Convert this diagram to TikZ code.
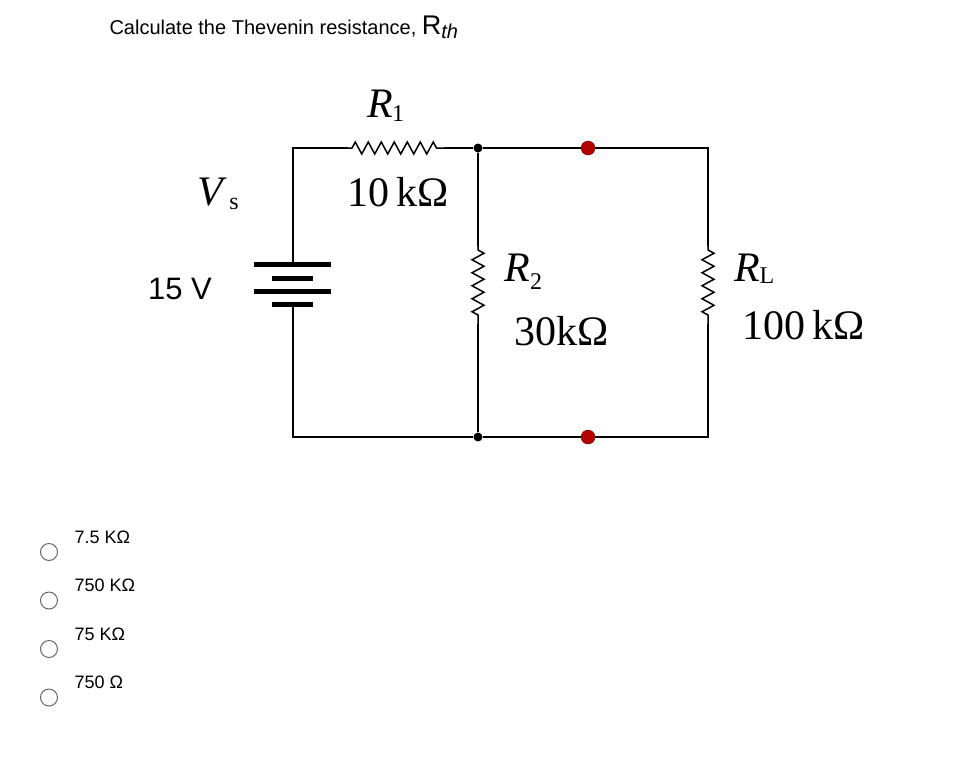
\documentclass[tikz,border=0pt]{standalone}
\usepackage{fontspec}
\setmainfont{Liberation Serif}
\newfontfamily\sans{Liberation Sans}
\usetikzlibrary{decorations.pathmorphing}
\begin{document}
\begin{tikzpicture}[x=1pt,y=-1pt,
  wire/.style={line width=1.5pt},
  res/.style={wire,decorate,decoration={zigzag,amplitude=6pt,segment length=13pt,pre length=4pt,post length=4pt}},
  dot/.style={circle,fill=black,inner sep=0pt,minimum size=9pt},
  term/.style={circle,fill=red!70!black,draw=red!50!black,inner sep=0pt,minimum size=14pt},
  plate/.style={line width=5pt},
  lbl/.style={font=\fontsize{42}{42}\selectfont},
  sub/.style={font=\fontsize{24}{24}\selectfont},
  opt/.style={circle,draw=black!60,line width=1pt,minimum size=17pt,inner sep=0pt}]
\useasboundingbox (0,0) rectangle (968,774);
\node[anchor=west,font=\sans\fontsize{20}{20}\selectfont] (title) at (106,27) {Calculate the Thevenin resistance, {\fontsize{27}{27}\selectfont R}\raisebox{-4pt}{\textit{th}}};
% corners
\coordinate (tl) at (293,148);
\coordinate (bl) at (293,437);
\coordinate (br) at (708,437);
\coordinate (tr) at (708,148);
\coordinate (bt) at (293,262);
\coordinate (bb) at (293,304);
\coordinate (r1a) at (348,148);
\coordinate (r1b) at (444,148);
\node[dot] (nt) at (478,148) {};
\node[dot] (nb) at (478,437) {};
\node[term] (at) at (588,148) {};
\node[term] (ab) at (588,437) {};
\coordinate (r2a) at (478,246);
\coordinate (r2b) at (478,324);
\coordinate (rla) at (708,246);
\coordinate (rlb) at (708,324);
% wires
\draw[wire] (bt) -- (tl) -- (r1a);
\draw[res] (r1a) -- (r1b);
\draw[wire] (r1b) -- (nt) -- (at) -- (tr) -- (rla);
\draw[res] (rla) -- (rlb);
\draw[wire] (rlb) -- (br) -- (ab) -- (nb) -- (bl) -- (bb);
\draw[wire] (nt) -- (r2a);
\draw[res] (r2a) -- (r2b);
\draw[wire] (r2b) -- (nb);
% battery
\draw[plate] (254,264) -- (331,264);
\draw[plate] (272,278) -- (313,278);
\draw[plate] (254,291) -- (331,291);
\draw[plate] (272,304) -- (313,304);
% labels
\node[lbl] (r1l) at (380,104) {\textit{R}};
\node[sub] (r1s) at (398,114) {1};
\node[lbl] (r1v) at (398,192) {10\,kΩ};
\node[lbl] (vs) at (212,192) {\textit{V}};
\node[sub] (vss) at (234,204) {s};
\node[font=\sans\fontsize{31}{31}\selectfont] (vv) at (180,289) {15 V};
\node[lbl] (r2l) at (517,268) {\textit{R}};
\node[sub] (r2s) at (536,282) {2};
\node[lbl] (r2v) at (562,331) {30kΩ};
\node[lbl] (rll) at (747,268) {\textit{R}};
\node[sub] (rls) at (767,276) {L};
\node[lbl] (rlv) at (804,325) {100\,kΩ};
% options
\foreach \i/\t in {0/7.5 KΩ,1/750 KΩ,2/75 KΩ,3/750 Ω}{
  \node[opt] (o\i) at (49,552+48.5*\i) {};
  \node[anchor=west,font=\sans\fontsize{18}{18}\selectfont] (t\i) at (71,537+48.5*\i) {\t};
}
\end{tikzpicture}
\end{document}
